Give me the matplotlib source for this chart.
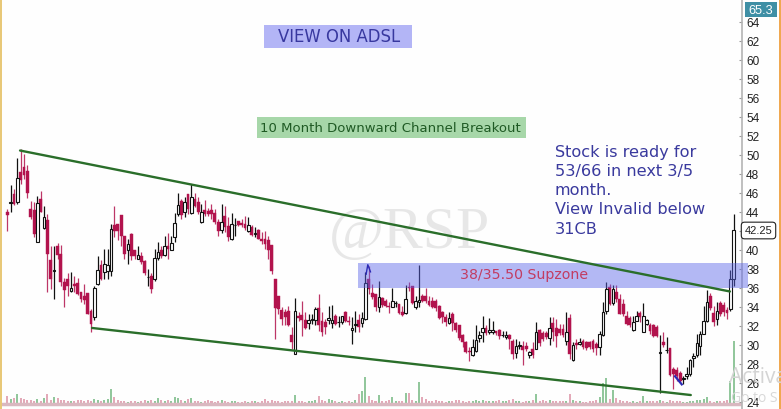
import matplotlib
matplotlib.use("Agg")
import matplotlib.pyplot as plt
from matplotlib.patches import Rectangle
import numpy as np

highs = [44.3, 46.8, 46.4, 49.65, 50.6, 50.1, 48.9, 45.2, 45.0, 45.7,
         46.2, 44.6, 43.8, 40.45, 40.45, 40.75, 40.5, 37.0, 37.6, 37.65,
         37.3, 37.1, 35.55, 36.4, 35.5, 33.8, 36.25, 39.4, 38.9, 40.1,
         40.1, 42.75, 44.6, 42.75, 43.7, 41.5, 41.15, 41.8, 39.95, 40.45,
         39.75, 38.9, 38.0, 37.6, 40.1, 40.8, 40.45, 41.45, 41.8, 41.5,
         43.9, 46.05, 45.35, 45.55, 45.9, 46.95, 46.05, 45.55, 44.85, 45.3,
         44.4, 44.85, 44.3, 43.25, 44.85, 44.6, 43.45, 43.85, 43.35, 43.1,
         43.25, 43.55, 43.45, 42.6, 42.4, 42.2, 41.85, 42.05, 41.5, 40.55,
         36.95, 35.2, 33.95, 33.8, 34.15, 31.85, 34.9, 33.45, 34.65, 33.45,
         33.25, 33.25, 33.95, 35.35, 33.45, 32.75, 34.15, 34.2, 33.25, 33.1,
         33.1, 33.6, 33.1, 32.9, 33.6, 33.25, 33.45, 37.65, 38.35, 36.4,
         35.35, 36.75, 35.0, 34.85, 34.5, 36.05, 34.65, 34.3, 34.15, 36.3,
         36.6, 36.25, 35.2, 38.4, 35.35, 35.95, 35.2, 35.0, 34.85, 34.2,
         33.6, 33.25, 33.45, 33.45, 32.45, 32.1, 31.15, 30.45, 29.75, 30.6,
         32.1, 31.5, 33.1, 32.05, 32.8, 32.55, 31.5, 31.7, 31.5, 31.5,
         31.15, 30.6, 30.6, 30.45, 30.45, 30.3, 29.4, 30.3, 32.4, 31.7,
         31.5, 31.5, 32.9, 32.9, 32.75, 32.2, 32.2, 33.5, 33.25, 30.3,
         30.6, 30.7, 30.6, 30.45, 30.45, 30.6, 30.3, 31.5, 34.5, 36.6,
         36.4, 36.3, 36.3, 35.35, 34.85, 33.6, 33.0, 33.1, 33.6, 33.6,
         34.4, 32.75, 32.3, 32.2, 32.05, 31.05, 31.35, 30.8, 29.65, 27.65,
         27.65, 27.3, 26.75, 27.65, 28.5, 29.2, 31.15, 31.5, 34.15, 35.8,
         35.45, 34.15, 34.5, 34.65, 34.5, 33.95, 37.85, 43.8]

lows = [42.0, 44.0, 44.7, 44.85, 46.95, 47.5, 45.45, 43.25, 41.35, 40.8,
        44.0, 42.2, 35.55, 35.9, 34.85, 39.05, 36.25, 34.05, 35.2, 35.6,
        35.55, 35.3, 34.5, 34.3, 33.25, 31.4, 32.6, 36.3, 36.8, 36.95,
        36.9, 37.25, 41.35, 41.1, 40.45, 39.05, 38.55, 38.9, 39.05, 39.0,
        38.55, 37.4, 36.25, 35.5, 36.75, 38.9, 39.2, 39.4, 39.05, 39.95,
        40.8, 43.55, 43.25, 43.45, 43.8, 43.8, 44.5, 43.8, 42.85, 43.55,
        43.55, 43.25, 42.75, 41.5, 41.8, 41.85, 40.9, 41.1, 41.5, 42.5,
        42.4, 42.15, 41.85, 41.45, 41.35, 41.15, 40.6, 40.1, 39.1, 37.45,
        30.6, 33.25, 32.1, 32.05, 31.95, 29.6, 29.05, 32.55, 30.9, 31.7,
        31.7, 32.2, 32.1, 31.5, 30.9, 31.15, 32.2, 31.75, 32.05, 31.85,
        32.2, 32.4, 32.1, 30.1, 31.35, 31.35, 31.85, 32.65, 35.35, 34.85,
        33.6, 33.5, 34.05, 34.05, 33.35, 33.95, 33.95, 33.25, 33.0, 33.25,
        35.7, 34.3, 33.8, 34.05, 34.5, 34.4, 34.15, 33.85, 33.6, 32.75,
        32.3, 31.95, 32.2, 31.5, 31.35, 30.55, 29.75, 29.2, 28.35, 28.8,
        29.3, 30.3, 30.3, 31.0, 31.15, 31.15, 31.05, 30.6, 30.8, 30.6,
        29.6, 28.5, 28.6, 29.6, 27.85, 29.4, 28.6, 28.6, 29.6, 29.9,
        30.45, 30.6, 29.95, 30.45, 29.75, 31.0, 30.8, 29.95, 28.5, 28.35,
        29.6, 30.0, 29.6, 29.5, 29.6, 29.3, 28.95, 28.9, 30.9, 33.25,
        34.2, 34.2, 34.5, 33.25, 33.1, 32.1, 31.85, 31.5, 32.55, 32.45,
        31.35, 32.05, 31.15, 30.8, 30.8, 24.95, 29.75, 29.2, 26.75, 25.35,
        26.25, 26.05, 25.9, 26.45, 26.75, 27.65, 28.7, 28.9, 31.15, 32.4,
        33.7, 31.95, 32.1, 33.1, 33.1, 32.75, 33.6, 36.25]

opens = [44.0, 44.9, 45.9, 45.0, 48.25, 48.7, 48.35, 44.3, 44.2, 40.8,
         45.4, 42.3, 43.15, 38.95, 37.8, 40.45, 39.6, 36.65, 36.95, 35.7,
         36.4, 36.5, 35.55, 35.2, 35.5, 33.6, 32.9, 36.4, 38.4, 37.65,
         37.8, 37.8, 42.65, 42.7, 43.7, 41.45, 39.95, 41.7, 39.95, 39.1,
         39.35, 38.8, 37.15, 37.25, 36.9, 39.2, 39.95, 39.5, 40.4, 40.05,
         41.35, 43.8, 45.2, 44.0, 45.9, 43.85, 45.4, 45.0, 42.9, 44.2,
         44.15, 44.25, 43.9, 42.95, 42.15, 43.55, 42.5, 41.15, 42.6, 43.1,
         42.8, 42.75, 42.0, 42.4, 41.7, 42.15, 41.2, 41.2, 41.0, 40.55,
         36.95, 35.2, 33.7, 33.45, 33.6, 31.0, 29.1, 33.0, 33.2, 32.65,
         32.3, 32.6, 32.65, 33.85, 32.55, 32.45, 32.6, 32.3, 33.1, 32.4,
         32.45, 33.45, 32.55, 31.55, 32.05, 32.65, 32.3, 32.75, 36.95, 35.45,
         35.35, 34.05, 34.9, 34.65, 34.15, 34.05, 34.4, 34.3, 33.45, 33.35,
         36.15, 36.25, 34.05, 34.5, 35.2, 35.2, 34.65, 34.65, 34.65, 34.15,
         33.45, 32.9, 32.3, 33.25, 32.3, 32.1, 31.05, 30.35, 29.35, 28.9,
         29.4, 30.7, 31.4, 31.75, 31.35, 31.4, 31.5, 31.6, 31.05, 30.8,
         31.05, 30.45, 29.15, 29.9, 29.85, 29.85, 28.95, 29.6, 29.6, 31.6,
         31.25, 31.25, 30.7, 32.3, 31.75, 31.7, 31.7, 30.45, 32.8, 28.4,
         30.2, 30.1, 30.45, 30.3, 30.3, 30.45, 30.1, 29.75, 31.0, 33.6,
         36.15, 34.4, 35.6, 34.85, 34.3, 33.1, 32.8, 31.6, 32.55, 33.35,
         31.4, 32.2, 32.1, 32.05, 31.85, 29.15, 30.3, 29.45, 29.65, 27.45,
         27.4, 27.05, 26.45, 26.75, 26.9, 28.6, 28.9, 29.85, 31.2, 32.5,
         35.2, 33.35, 32.75, 34.4, 34.2, 33.7, 33.8, 36.95]

closes = [43.7, 45.0, 44.85, 47.55, 47.4, 47.85, 46.0, 43.45, 41.7, 44.95,
          44.05, 43.45, 39.6, 36.9, 37.85, 39.5, 36.6, 35.8, 36.25, 36.05,
          36.25, 35.4, 34.8, 34.75, 33.25, 32.2, 36.05, 37.9, 36.95, 38.5,
          38.4, 42.2, 41.95, 41.95, 41.45, 39.6, 40.65, 39.35, 39.35, 39.5,
          38.7, 37.6, 37.2, 35.9, 39.2, 39.75, 39.4, 40.4, 40.1, 40.7,
          42.85, 44.75, 43.7, 45.0, 44.3, 45.55, 44.6, 44.0, 44.0, 43.8,
          43.8, 43.8, 42.95, 42.0, 42.9, 42.4, 41.35, 42.7, 42.65, 42.65,
          42.65, 42.3, 42.6, 41.6, 41.75, 41.15, 40.9, 40.65, 39.95, 37.8,
          33.85, 33.8, 32.75, 32.9, 32.05, 30.3, 33.55, 32.8, 32.65, 31.75,
          32.6, 32.75, 33.8, 32.1, 31.35, 31.85, 32.8, 32.65, 32.2, 32.45,
          33.0, 32.55, 32.4, 31.75, 32.25, 31.85, 32.85, 36.55, 35.9, 35.1,
          34.05, 35.1, 34.2, 34.15, 33.95, 34.65, 34.4, 33.35, 33.15, 34.85,
          36.05, 34.4, 34.65, 34.7, 34.65, 34.65, 34.2, 34.05, 33.85, 32.8,
          32.9, 32.4, 32.8, 32.3, 31.6, 30.7, 30.3, 29.3, 29.3, 29.75,
          30.5, 31.05, 31.75, 31.25, 31.6, 31.55, 31.25, 30.9, 31.1, 31.0,
          30.6, 29.05, 29.85, 29.95, 29.5, 29.6, 29.25, 28.9, 31.35, 30.2,
          30.6, 30.8, 31.75, 31.35, 30.9, 31.25, 31.0, 31.4, 29.05, 30.0,
          29.95, 30.3, 29.75, 29.65, 29.75, 29.6, 29.65, 31.2, 33.45, 35.9,
          34.3, 35.9, 34.85, 33.25, 33.25, 32.2, 32.1, 32.4, 33.1, 32.9,
          33.0, 32.65, 31.5, 30.9, 30.9, 29.3, 29.95, 29.5, 26.85, 26.95,
          26.75, 26.25, 26.55, 26.95, 28.45, 28.8, 30.2, 31.2, 32.55, 34.5,
          33.85, 32.45, 33.6, 33.25, 33.45, 33.35, 36.95, 42.15]

volumes = [8, 5, 6, 10, 6, 5, 4, 4, 3, 5,
           3, 6, 10, 4, 7, 6, 4, 4, 3, 3,
           3, 4, 4, 3, 4, 3, 5, 4, 3, 4,
           5, 15, 7, 4, 3, 3, 2, 3, 3, 2,
           3, 4, 3, 4, 3, 6, 4, 3, 4, 3,
           7, 6, 4, 3, 5, 6, 3, 3, 2, 3,
           4, 3, 2, 3, 4, 3, 2, 3, 3, 2,
           2, 3, 2, 3, 3, 2, 3, 5, 3, 4,
           3, 3, 2, 3, 3, 3, 9, 3, 3, 2,
           3, 3, 4, 8, 4, 3, 5, 4, 3, 2,
           3, 2, 3, 2, 4, 10, 13, 27, 8, 4,
           3, 9, 3, 3, 4, 7, 3, 3, 3, 11,
           11, 4, 3, 22, 7, 5, 3, 3, 4, 3,
           3, 2, 3, 3, 4, 4, 3, 2, 3, 3,
           4, 3, 4, 3, 3, 3, 3, 4, 3, 3,
           4, 5, 3, 3, 2, 3, 3, 4, 10, 3,
           4, 3, 4, 3, 3, 3, 3, 3, 10, 4,
           3, 3, 2, 2, 3, 3, 4, 7, 21, 26,
           5, 14, 6, 4, 3, 3, 2, 3, 2, 3,
           8, 3, 3, 3, 3, 4, 3, 2, 4, 3,
           3, 3, 2, 2, 3, 3, 4, 4, 5, 7,
           3, 2, 3, 3, 3, 4, 23, 63]

tick_values = list(range(24, 66, 2))

upper_x = [3.8, 215.9]
upper_y = [50.47, 35.63]
lower_x = [25.3, 204.2]
lower_y = [31.79, 24.73]

red = "#b2134d"

fig = plt.figure(figsize=(7.81, 4.10), dpi=100)
fig.patch.set_facecolor("#fefefe")

vol_ax = fig.add_axes([0, 0, 742 / 781, 1])
vol_ax.set_axis_off()
ax = fig.add_axes([0, 0, 742 / 781, 1], sharex=vol_ax)
ax.patch.set_visible(False)

ax.set_xlim(-2.19, 219.5)
ax.set_ylim(23.26, 66.42)
vol_ax.set_ylim(-5, 405)

x = np.arange(len(closes))
opens = np.array(opens)
closes = np.array(closes)
is_up = closes >= opens

vol_colors = ["#92c79c" if u else "#e3a9b8" for u in is_up]
vol_ax.bar(x, volumes, width=0.6, color=vol_colors, linewidth=0)
vol_ax.axhline(0, color="#d9b8c0", lw=2.5)

ax.text(0.552, 0.43, "@RSP", transform=ax.transAxes, family="Liberation Serif", fontsize=43,
        color="#e7e7e7", ha="center", va="center", zorder=1)

# wicks then bodies
ax.vlines(x[~is_up], np.array(lows)[~is_up], np.array(highs)[~is_up], color=red, lw=0.9, alpha=0.85, zorder=3)
ax.vlines(x[is_up], np.array(lows)[is_up], np.array(highs)[is_up], color="#111111", lw=0.9, zorder=3)
ax.bar(x[~is_up], (opens - closes)[~is_up], bottom=closes[~is_up], width=0.85, color=red, linewidth=0.3, edgecolor=red, zorder=4)
ax.bar(x[is_up], (closes - opens)[is_up], bottom=opens[is_up], width=0.78, facecolor="white", edgecolor="#111111", linewidth=0.8, zorder=4)

# supply zone runs a little past the axis
ax.add_patch(Rectangle((104.9, 35.97), 116.4, 2.66, facecolor="#5c66ea", alpha=0.46, linewidth=0, zorder=5, clip_on=False))

ax.plot(upper_x, upper_y, color="#2a6e2a", lw=1.7, zorder=6, solid_capstyle="round")
ax.plot(lower_x, lower_y, color="#2a6e2a", lw=1.7, zorder=6, solid_capstyle="round")

# small hand drawn marks
ax.plot([107.2, 107.7, 108.5], [37.45, 38.45, 37.7], color="#2b2bb5", lw=1.0, zorder=6)
ax.plot([199.5, 201.5], [26.7, 25.85], color="#2b2bb5", lw=1.6, zorder=6)

ax.spines[["top", "left", "bottom"]].set_visible(False)
ax.spines["right"].set_color("#b4b4b4")
ax.spines["right"].set_linewidth(1.2)
ax.xaxis.set_visible(False)
ax.yaxis.tick_right()
ax.set_yticks(tick_values)
ax.tick_params(axis="y", direction="in", length=2.5, width=0.8, color="#999999", pad=3,
               labelsize=8.5, labelcolor="#222222")
for lab in ax.get_yticklabels():
    lab.set_family("Liberation Sans")

# annotations placed in figure pixels
def fx(px):
    return px / 781

def fy(py):
    return 1 - py / 410

fig.patches.append(Rectangle((fx(264), fy(49)), 148 / 781, 23 / 410, transform=fig.transFigure, facecolor="#b3b5f6", linewidth=0))
fig.text(fx(339), fy(37.5), "VIEW ON ADSL", color="#38389f", fontsize=11.9, ha="center", va="center")

fig.patches.append(Rectangle((fx(257), fy(139)), 269 / 781, 21 / 410, transform=fig.transFigure, facecolor="#a7d7a9", linewidth=0))
fig.text(fx(390.5), fy(128), "10 Month Downward Channel Breakout", color="#1f5a24", fontsize=9.55, ha="center", va="center")

stock_lines = ["Stock is ready for", "53/66 in next 3/5", "month.", "View Invalid below", "31CB"]
for n, line in enumerate(stock_lines):
    fig.text(fx(555), fy(153 + 19 * n), line, color="#3a3a9e", fontsize=11.6, ha="left", va="center")

fig.text(fx(524), fy(275), "38/35.50 Supzone", color="#c23c62", fontsize=10.2, ha="center", va="center", zorder=10)

# price boxes on the axis
fig.patches.append(Rectangle((fx(745), fy(18)), 32 / 781, 15 / 410, transform=fig.transFigure, facecolor="#3f8fa5", linewidth=0))
fig.text(fx(761), fy(10.5), "65.3", color="white", fontsize=9.2, family="Liberation Sans", ha="center", va="center")
fig.text(fx(758.5), fy(231.5), "42.25", color="#222222", fontsize=8, family="Liberation Sans", ha="center", va="center",
         bbox=dict(boxstyle="round,pad=0.3", facecolor="white", edgecolor="#222222", linewidth=0.8))

# windows watermark at the corner
fig.text(fx(729), fy(378), "Activa", color="#d4d4d4", fontsize=15, family="Open Sans", ha="left", va="center")
fig.text(fx(731), fy(399), "Go to S", color="#d8d8d8", fontsize=10, family="Open Sans", ha="left", va="center")

# window edges
fig.patches.append(Rectangle((0, 0), 1.5 / 781, 1, transform=fig.transFigure, facecolor="#e8c878", linewidth=0))
fig.patches.append(Rectangle((fx(779), 0), 2 / 781, 1, transform=fig.transFigure, facecolor="#f0a850", linewidth=0))

fig.savefig("out.png", dpi=100)
